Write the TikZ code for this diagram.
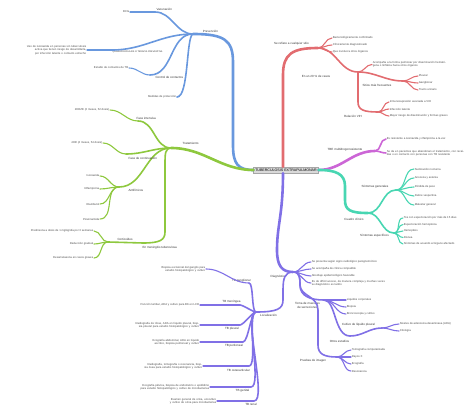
\documentclass[tikz,border=0pt]{standalone}
\usepackage{fontspec}
\setmainfont{Liberation Sans}
\definecolor{cblue}{RGB}{105,152,222}
\definecolor{cred}{RGB}{226,108,112}
\definecolor{cpink}{RGB}{204,102,214}
\definecolor{cteal}{RGB}{72,214,178}
\definecolor{cviolet}{RGB}{128,112,230}
\definecolor{cgreen}{RGB}{142,200,62}
\tikzset{
  leaf/.style={font=\fontsize{2.8}{3.4}\selectfont, text=black!70, inner sep=0.6pt},
  leafl/.style={leaf, anchor=east, align=right},
  leafr/.style={leaf, anchor=west, align=left},
  lbl/.style={font=\fontsize{3}{3.6}\selectfont, text=black!80, inner sep=0.3pt},
  trunk/.style={line width=2.6pt, line cap=round},
  twig/.style={line width=1.6pt, line cap=round},
  leafline/.style={line width=1.1pt, line cap=round}
}
\begin{document}
\begin{tikzpicture}[x=1pt,y=-1pt]
\useasboundingbox (0,0) rectangle (474,414);

% centro
\node[draw=gray!70, fill=gray!30, font=\fontsize{3.6}{4.2}\selectfont, inner sep=1.6pt] (tbe) at (286,170) {TUBERCULOSIS EXTRAPULMONAR};

% Prevencion
\coordinate (prev) at (193,34);
\coordinate (vac) at (155,12);
\coordinate (quim) at (112,50);
\coordinate (cont) at (150,75);
\draw[trunk,cblue] (tbe.west) .. controls (238,170) and (233,164) .. (233,145) -- (233,62) .. controls (233,40) and (224,34) .. (prev);
\node[lbl] at (210.5,31) {Prevención};
\node[lbl, anchor=south west] at (156,11) {Vacunación};
\node[lbl, anchor=north west, font=\fontsize{2.3}{2.8}\selectfont] at (112,50.8) {QUIMIOPROFILAXIS O TERAPIA PREVENTIVA};
\node[lbl, anchor=north west] at (155,76.2) {Control de contactos};
\node[leafl] (bcg) at (130,12) {BCG};
\node[leafl, text width=80pt] (quimtx) at (87,50) {Uso de isoniazida en personas sin tuberculosis activa que tienen riesgo de desarrollarla, por infección latente o contacto estrecho};
\node[leafl] (conttx) at (129,68) {Estudio de contactos de TB};
\node[leafl] (med) at (177,97) {Medidas de protección};
\draw[twig,cblue] (prev) to[out=180,in=0] (vac);
\draw[twig,cblue] (prev) to[out=180,in=0] (quim);
\draw[twig,cblue] (prev) to[out=180,in=0] (cont);
\draw[twig,cblue] (prev) .. controls (186,36) and (189,97) .. (med.east);
\draw[leafline,cblue] (vac) -- (bcg.east);
\draw[leafline,cblue] (quim) -- (quimtx.east);
\draw[leafline,cblue] (cont) to[out=180,in=0] (conttx.east);

% Definicion
\coordinate (ser) at (318,48);
\coordinate (suc) at (358,72);
\coordinate (afec) at (403,81);
\coordinate (vih) at (378,112);
\draw[trunk,cred] ([xshift=-3pt]tbe.north) -- (283,75) .. controls (283,54) and (292,48) .. (ser);
\node[lbl] at (291.5,44) {Se refiere a cualquier sitio};
\node[leafr] (bact) at (332,38) {Bacteriológicamente confirmado};
\node[leafr] (clin) at (332,45) {Clínicamente diagnosticado};
\node[leafr] (invo) at (332,52) {Que involucra otros órganos};
\foreach \n in {bact,clin,invo}
  \draw[leafline,cred] (ser) to[out=0,in=180] (\n.west);
\draw[twig,cred] (ser) to[out=0,in=180] (suc);
\node[lbl] at (316,76) {En un 20 \% de casos};
\node[leafr, text width=76pt] (acomp) at (372,64.5) {Acompaña a la forma pulmonar por diseminación hematógena o linfática hacia otros órganos};
\draw[leafline,cred] (suc) to[out=0,in=180] (acomp.west);
\draw[twig,cred] (suc) to[out=0,in=180] (afec);
\node[lbl] at (377,85) {Sitios más frecuentes};
\node[leafr] (rpleu) at (418,76) {Pleural};
\node[leafr] (rgang) at (418,83) {Ganglionar};
\node[leafr] (rtrac) at (418,90) {Tracto urinario};
\foreach \n in {rpleu,rgang,rtrac}
  \draw[leafline,cred] (afec) to[out=0,in=180] (\n.west);
\draw[twig,cred] (suc) .. controls (358,72) and (358,78) .. (358,88) -- (358,102) .. controls (358,110) and (364,112) .. (vih);
\node[lbl] at (353,116) {Relación VIH};
\node[leafr] (inmu) at (389,102) {Inmunosupresión asociada a VIH};
\node[leafr] (infe) at (389,109) {Infección latente};
\node[leafr] (ries) at (389,116) {Mayor riesgo de diseminación y formas graves};
\foreach \n in {inmu,infe,ries}
  \draw[leafline,cred] (vih) to[out=0,in=180] (\n.west);

% Multidrogorresistente
\coordinate (tmdr) at (375,151);
\draw[trunk,cpink] (tbe.east) to[out=0,in=180] (tmdr);
\node[lbl] at (345,149.5) {TBE multidrogorresistente};
\node[leafr] (resi) at (386,139) {Es resistente a isoniazida y rifampicina a la vez};
\node[leafr, text width=80pt] (caus) at (386,153) {Se da en pacientes que abandonan el tratamiento, con recaídas o en contacto con personas con TB resistente};
\draw[twig,cpink] (tmdr) to[out=0,in=180] (resi.west);
\draw[twig,cpink] (tmdr) to[out=0,in=180] (caus.west);

% Cuadro clinico
\coordinate (cuad) at (368,213);
\coordinate (sgen) at (396,190);
\coordinate (sesp) at (394,233);
\draw[trunk,cteal] (tbe.east) .. controls (336,170) and (345,174) .. (345,186) -- (345,200) .. controls (345,210) and (350,213) .. (cuad);
\node[lbl] at (354,219) {Cuadro clínico};
\draw[twig,cteal] (cuad) to[out=0,in=180] (sgen);
\draw[twig,cteal] (cuad) to[out=0,in=180] (sesp);
\node[lbl] at (375,187) {Síntomas generales};
\node[lbl] at (374.5,235.5) {Síntomas específicos};
\foreach \t [count=\i] in {Sudoración nocturna, Anorexia y astenia, Pérdida de peso, Fiebre vespertina, Malestar general}
{
  \node[leafr] (sg\i) at (414,{160+9*\i}) {\t};
  \draw[leafline,cteal] (sgen) to[out=0,in=180] (sg\i.west);
}
\foreach \t [count=\i] in {Tos con expectoración por más de 15 días, Expectoración hemoptoica, Hemoptisis, Disnea, Síntomas de acuerdo al órgano afectado}
{
  \node[leafr] (se\i) at (403,{211.5+6.5*\i}) {\t};
  \draw[leafline,cteal] (sesp) to[out=0,in=180] (se\i.west);
}

% Diagnostico
\coordinate (diag) at (293,272);
\coordinate (toma) at (324,300);
\coordinate (otro) at (350,336);
\coordinate (cult) at (382,328);
\coordinate (imag) at (337,357);
\coordinate (loc) at (256,312);
\draw[trunk,cviolet] ([xshift=-3pt]tbe.south) .. controls (283,215) and (277,225) .. (277,250) .. controls (277,266) and (282,272) .. (diag);
\node[lbl] at (278.5,277) {Diagnóstico};
\node[leafr] (dg1) at (311,262) {Se presenta según signo radiológico patognomónico};
\node[leafr] (dg2) at (311,269) {Se acompaña de clínica compatible};
\node[leafr] (dg3) at (311,276) {Abordaje epidemiológico favorable};
\node[leafr, text width=74pt] (dg4) at (311,283) {Es de difícil acceso, de manera compleja y muchas veces su diagnóstico es tardío};
\foreach \n in {dg1,dg2,dg3,dg4}
  \draw[leafline,cviolet] (diag) to[out=0,in=180] (\n.west);
\draw[twig,cviolet] (diag) .. controls (300,272) and (300,278) .. (300,285) .. controls (300,296) and (310,300) .. (toma);
\node[lbl, align=center] at (307.5,305.5) {Toma de muestras\\de secreciones};
\node[leafr] (liq) at (346,300) {Líquidos corporales};
\node[leafr] (bio) at (346,307) {Biopsia};
\node[leafr] (bron) at (346,314) {Broncoscopia y cultivo};
\foreach \n in {liq,bio,bron}
  \draw[leafline,cviolet] (toma) to[out=0,in=180] (\n.west);
\draw[twig,cviolet] (toma) .. controls (336,300) and (334,336) .. (otro);
\node[lbl] at (339.5,341) {Otros estudios};
\draw[twig,cviolet] (otro) to[out=0,in=180] (cult);
\node[lbl] at (358.5,325) {Cultivo de líquido pleural};
\node[leafr] (ada) at (399,324) {Niveles de adenosina desaminasa (ADA)};
\node[leafr] (cito) at (399,331) {Citología};
\foreach \n in {ada,cito}
  \draw[leafline,cviolet] (cult) to[out=0,in=180] (\n.west);
\draw[twig,cviolet] (diag) .. controls (300,272) and (300,278) .. (300,285) .. controls (300,296) and (318,296) .. (318,310) -- (318,345) .. controls (318,354) and (324,357) .. (imag);
\node[lbl] at (313,361) {Pruebas de imagen};
\foreach \t [count=\i] in {Tomografía computarizada, Rayos X, Ecografía, Resonancia}
{
  \node[leafr] (im\i) at (351,{343+7*\i}) {\t};
  \draw[leafline,cviolet] (imag) to[out=0,in=180] (im\i.west);
}
\draw[twig,cviolet] (diag) .. controls (285,272) and (283,278) .. (283,290) -- (283,300) .. controls (283,309) and (277,312) .. (loc);
\node[lbl, anchor=north] at (268.5,313.6) {Localización};
\coordinate (tbg) at (249,283);
\coordinate (tbm) at (240,305);
\coordinate (tbp) at (240,325);
\coordinate (tbpe) at (243,342);
\coordinate (tbo) at (249,366);
\coordinate (tbgu) at (251,387);
\coordinate (tbr) at (254,401);
\foreach \n in {tbg,tbm,tbp,tbpe,tbo,tbgu,tbr}
  \draw[twig,cviolet] (loc) to[out=180,in=0,looseness=0.4] (\n);
\node[lbl] at (241.5,280.3) {TB ganglionar};
\node[lbl] at (231.5,301.8) {TB meníngea};
\node[lbl] at (232,328.3) {TB pleural};
\node[lbl] at (234,345.7) {TB peritoneal};
\node[lbl] at (238.5,370) {TB osteoarticular};
\node[lbl] at (242.5,390.7) {TB genital};
\node[lbl] at (251,404.7) {TB renal};
\node[leafl, text width=66pt] (tbgtx) at (206,269) {Biopsia excisional del ganglio para estudio histopatológico y cultivo};
\node[leafl] (tbmtx) at (200,305) {Punción lumbar, ADA y cultivo para BK en LCR};
\node[leafl, text width=78pt] (tbptx) at (200,325) {Radiografía de tórax, ADA en líquido pleural, biopsia pleural para estudio histopatológico y cultivo};
\node[leafl, text width=66pt] (tbpetx) at (200,342) {Ecografía abdominal, ADA en líquido ascítico, biopsia peritoneal y cultivo};
\node[leafl, text width=74pt] (tbotx) at (203,366) {Radiografía, tomografía o resonancia, biopsia ósea para estudio histopatológico y cultivo};
\node[leafl, text width=71pt] (tbgutx) at (210,387) {Ecografía pélvica, biopsia de endometrio o epidídimo para estudio histopatológico y cultivo de micobacterias};
\node[leafl, text width=66pt] (tbrtx) at (217,401) {Examen general de orina, urocultivo y cultivo de orina para micobacterias};
\draw[leafline,cviolet] (tbg) to[out=180,in=0] (tbgtx.east);
\draw[leafline,cviolet] (tbm) -- (tbmtx.east);
\draw[leafline,cviolet] (tbp) -- (tbptx.east);
\draw[leafline,cviolet] (tbpe) -- (tbpetx.east);
\draw[leafline,cviolet] (tbo) -- (tbotx.east);
\draw[leafline,cviolet] (tbgu) -- (tbgutx.east);
\draw[leafline,cviolet] (tbr) -- (tbrtx.east);

% Tratamiento
\coordinate (trat) at (171,148);
\coordinate (fint) at (138,121);
\coordinate (fcont) at (126,154);
\coordinate (anti) at (119,187);
\coordinate (menin) at (143,243);
\coordinate (cort) at (108,242);
\draw[trunk,cgreen] (tbe.west) to[out=180,in=0] (trat);
\node[lbl] at (190.5,143.5) {Tratamiento};
\draw[twig,cgreen] (trat) to[out=180,in=0] (fint);
\draw[twig,cgreen] (trat) to[out=180,in=0] (fcont);
\draw[twig,cgreen] (trat) to[out=180,in=0] (anti);
\draw[twig,cgreen] (trat) .. controls (165,148) and (165,154) .. (165,165) -- (165,232) .. controls (165,240) and (160,243) .. (menin);
\node[lbl, anchor=south west] at (136,119.6) {Fase intensiva};
\node[lbl, anchor=north west] at (128,156.4) {Fase de continuación};
\node[lbl, anchor=north west] at (128,189) {Antifímicos};
\node[lbl, anchor=north west] at (142,245.8) {En meningitis tuberculosa};
\node[leafl] (rhze) at (110,110) {2HRZE (2 meses, 52 dosis)};
\node[leafl] (rh) at (103,143) {4HR (4 meses, 54 dosis)};
\draw[leafline,cgreen] (fint) to[out=180,in=0] (rhze.east);
\draw[leafline,cgreen] (fcont) to[out=180,in=0] (rh.east);
\foreach \t/\y [count=\i] in {Isoniazida/176, Rifampicina/189, Etambutol/204, Pirazinamida/219}
{
  \node[leafl] (af\i) at (100,\y) {\t};
  \draw[leafline,cgreen] (anti) to[out=180,in=0] (af\i.east);
}
\draw[twig,cgreen] (menin) -- (cort);
\node[lbl, anchor=south west] at (117,241.4) {Corticoides};
\node[leafl] (cor1) at (94,231) {Prednisona a dosis de 1 mg/kg/día por 3 semanas};
\node[leafl] (cor2) at (94,244) {Reducción gradual};
\node[leafl] (cor3) at (94,258) {Dexametasona en casos graves};
\foreach \n in {cor1,cor2,cor3}
  \draw[leafline,cgreen] (cort) to[out=180,in=0] (\n.east);
\end{tikzpicture}
\end{document}
